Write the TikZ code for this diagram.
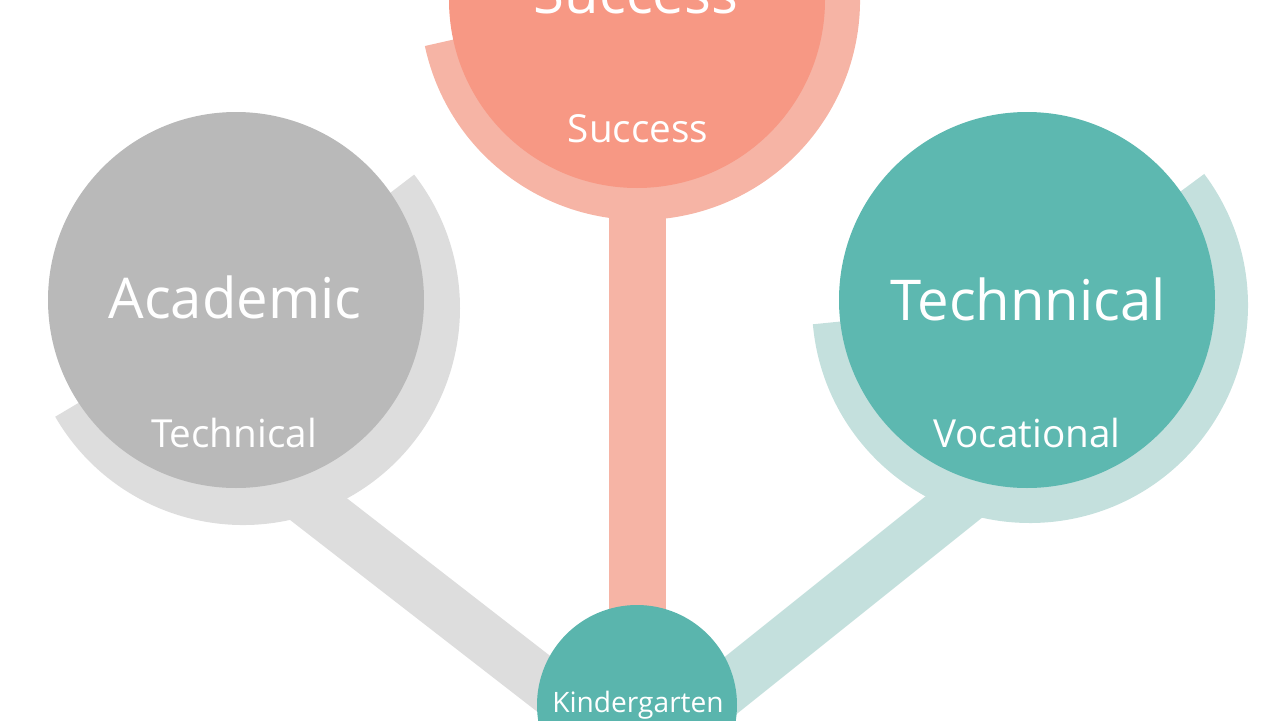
\documentclass[tikz,border=0pt]{standalone}
\usepackage{fontspec}
\setmainfont{Open Sans}
\usetikzlibrary{backgrounds}

\definecolor{acadgray}{HTML}{B9B9B9}
\definecolor{acadring}{HTML}{DDDDDD}
\definecolor{succsalmon}{HTML}{F79884}
\definecolor{succring}{HTML}{F6B4A5}
\definecolor{techteal}{HTML}{5DB8B0}
\definecolor{techring}{HTML}{C4E0DD}
\definecolor{kgteal}{HTML}{5AB5AD}

\begin{document}
\begin{tikzpicture}[x=0.1mm,y=0.1mm,
  disc/.style={circle,inner sep=0pt,minimum size=37.6mm},
  bigtext/.style={text=white,anchor=base,font=\fontsize{16}{19}\selectfont},
  smalltext/.style={text=white,anchor=base,font=\fontsize{11}{13}\selectfont},
  band/.style={line width=4.4mm},
  bar/.style={line width=5.2mm}]

\useasboundingbox (0,0) rectangle (1280,720);
\clip (0,0) rectangle (1280,720);

% circles
\node[disc,fill=succsalmon] (succ) at (637,720) {};
\node[disc,fill=acadgray] (acad) at (236,420) {};
\node[disc,fill=techteal] (tech) at (1027,420) {};
\node[circle,inner sep=0pt,minimum size=20mm,fill=kgteal] (kg) at (637,15) {};

% labels
\node[bigtext] (succtop) at (636,707) {Success};
\node[smalltext] (succsub) at (638,578) {Success};
\node[bigtext] (acadtop) at (235,402) {Academic};
\node[smalltext] (acadsub) at (234,273) {Technical};
\node[bigtext] (techtop) at (1028,400) {Technnical};
\node[smalltext] (techsub) at (1027,273) {Vocational};
\node[text=white,anchor=base,font=\fontsize{8}{10}\selectfont] (kgtext) at (638,8) {Kindergarten};

% bars and rings behind
\coordinate (gA) at (290,233); \coordinate (gB) at (620,-23);
\coordinate (tA) at (980,234); \coordinate (tB) at (700,10);
\begin{scope}[on background layer]
\draw[bar,acadring] (gA) -- (gB);
\draw[bar,techring] (tA) -- (tB);
\draw[line width=5.7mm,succring,shorten >=-12] (succ) -- (kg);

\draw[band,acadring] (243,412) ++(210:195) arc[start angle=210,end angle=398,radius=195];
\draw[band,techring] (1030,415) ++(185:196) arc[start angle=185,end angle=397,radius=196];
\draw[band,succring] (640,720) ++(192:198) arc[start angle=192,end angle=420,radius=198];
\end{scope}

\end{tikzpicture}
\end{document}
